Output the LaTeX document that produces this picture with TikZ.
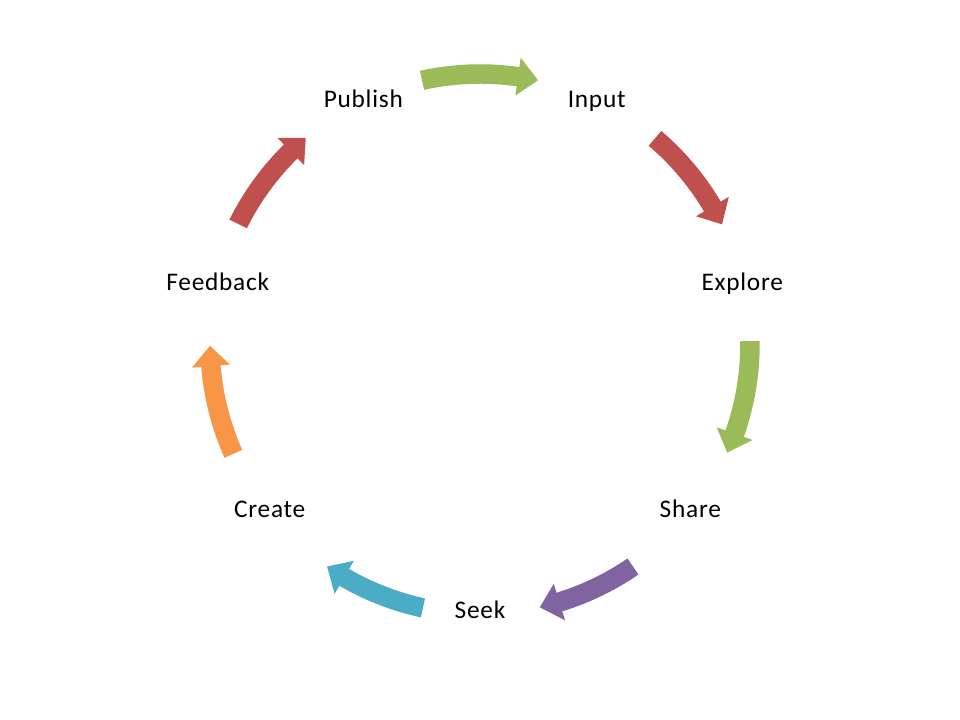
\documentclass[tikz,border=0pt]{standalone}
\usepackage{fontspec}
\setmainfont{Carlito}[LetterSpace=3]
\usetikzlibrary{calc}
\definecolor{cgreen}{HTML}{9BBB59}
\definecolor{cred}{HTML}{C0504D}
\definecolor{cpurple}{HTML}{8064A2}
\definecolor{cteal}{HTML}{4BACC6}
\definecolor{corange}{HTML}{F79646}
\def\cyR{202.5}
\def\cyW{7.3}
\def\cyH{14.3}
\def\cyL{4.3}
\newcommand\cycarrow[3]{%
 \pgfmathsetmacro\cyRo{\cyR+\cyW}%
 \pgfmathsetmacro\cyRi{\cyR-\cyW}%
 \pgfmathsetmacro\cyHo{\cyR+\cyH}%
 \pgfmathsetmacro\cyHi{\cyR-\cyH}%
 \pgfmathsetmacro\cyB{#3+\cyL}%
 \fill[#1] ($(A)+(#2:\cyRo)$) arc[start angle=#2, end angle=\cyB, radius=\cyRo]
   -- ($(A)+(\cyB:\cyHo)$) -- ($(A)+(#3:\cyR)$) -- ($(A)+(\cyB:\cyHi)$)
   -- ($(A)+(\cyB:\cyRi)$) arc[start angle=\cyB, end angle=#2, radius=\cyRi] -- cycle;
}
\begin{document}
\begin{tikzpicture}[x=1pt,y=1pt,
  lbl/.style={font=\fontsize{19}{22}\selectfont, text height=0.75em, text depth=0.25em, inner sep=0pt, text=black}]
\useasboundingbox (0,0) rectangle (720,540);
\fill[white] (0,0) rectangle (720,540);
\coordinate (C) at (360,280);
\coordinate (A) at (360,282);
\node[lbl] (publish) at ($(C)+(115.71:201.75)$) {Publish};
\node[lbl] (input) at ($(C)+(64.29:201.75)$) {Input};
\node[lbl] (explore) at ($(C)+(12.86:201.75)$) {Explore};
\node[lbl] (share) at ($(C)+(-38.57:201.75)$) {Share};
\node[lbl] (seek) at ($(C)+(-90:201.75)$) {Seek};
\node[lbl] (create) at ($(C)+(-141.43:201.75)$) {Create};
\node[lbl] (feedback) at ($(C)+(167.14:201.75)$) {Feedback};
\cycarrow{cgreen}{102.4}{77.6}
\cycarrow{cred}{49.6}{26.3}
\cycarrow{cgreen}{0.6}{-23.7}
\cycarrow{cpurple}{-55.5}{-77.2}
\cycarrow{cteal}{-102.2}{-124.5}
\cycarrow{corange}{-156}{-179.6}
\cycarrow{cred}{153.6}{130.2}
\end{tikzpicture}
\end{document}
